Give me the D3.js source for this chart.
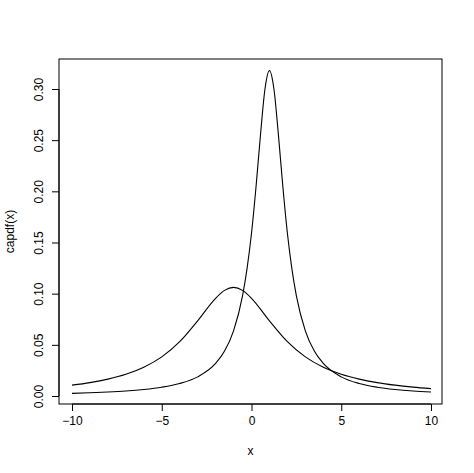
<!DOCTYPE html>
<html><head><meta charset="utf-8">
<script src="https://cdn.jsdelivr.net/npm/d3@7"></script>
<style>body{margin:0;background:#fff}text{font-family:"Liberation Sans",Arial,sans-serif;font-size:12px}</style>
</head><body><div id="chart"></div>
<script>
const xTicks = [-10, -5, 0, 5, 10];
const yTicks = [0, 0.05, 0.10, 0.15, 0.20, 0.25, 0.30];
// narrow, tall curve
const xsA = [-10,-9,-8,-7,-6,-5,-4,-3,-2,-1.5,-1,-0.5,-0.25,0,0.25,0.5,0.75,1,1.25,1.5,1.75,2,2.25,2.5,3,3.5,4,5,6,7,8,9,10];
const ysA = [0.0026,0.0032,0.0039,0.0049,0.0064,0.0086,0.0122,0.0187,0.0318,0.0439,0.0637,0.0979,0.1242,0.159,0.204,0.255,0.300,0.318,0.300,0.255,0.204,0.159,0.1242,0.0979,0.0637,0.0439,0.0318,0.0187,0.0122,0.0086,0.0064,0.0049,0.0039];
// wide, low curve
const xsB = [-10,-9,-8,-7,-6,-5,-4,-3,-2,-1.5,-1,-0.5,0,1,2,3,4,5,6,7,8,9,10];
const ysB = [0.0106,0.0131,0.0165,0.0212,0.0281,0.0382,0.0531,0.0735,0.0955,0.1032,0.1061,0.1032,0.0955,0.0735,0.0531,0.0382,0.0281,0.0212,0.0165,0.0131,0.0106,0.0087,0.0072];

const svg = d3.select("#chart").append("svg").attr("width", 474).attr("height", 473);
const box = { left: 59, right: 442, top: 59, bottom: 404 };

const x = d3.scaleLinear().domain([-10, 10]).range([72, 431]);
const y = d3.scaleLinear().domain([0, 0.30]).range([396, 89]);

svg.append("rect")
    .attr("x", box.left).attr("y", box.top)
    .attr("width", box.right - box.left).attr("height", box.bottom - box.top)
    .attr("fill", "none").attr("stroke", "#000");

const line = d3.line().x(d => x(d[0])).y(d => y(d[1])).curve(d3.curveMonotoneX);
[[xsA, ysA], [xsB, ysB]].forEach(([xs, ys]) => {
    svg.append("path")
        .attr("d", line(xs.map((v, i) => [v, ys[i]])))
        .attr("fill", "none").attr("stroke", "#000").attr("stroke-width", 1.1);
});

const xAxis = svg.append("g").attr("transform", `translate(0,${box.bottom})`)
    .call(d3.axisBottom(x).tickValues(xTicks).tickSize(7).tickPadding(5).tickFormat(d => d < 0 ? "\u2212" + Math.abs(d) : d));
xAxis.select(".domain").attr("d", `M${x(-10)},0H${x(10)}`);
xAxis.selectAll("text").style("font-size", "12px").style("font-family", "Liberation Sans, Arial, sans-serif");

const yAxis = svg.append("g").attr("transform", `translate(${box.left},0)`)
    .call(d3.axisLeft(y).tickValues(yTicks).tickSize(7).tickFormat(d3.format(".2f")));
yAxis.select(".domain").attr("d", `M0,${y(0)}V${y(0.30)}`);
yAxis.selectAll("text")
    .attr("transform", d => `rotate(-90,-16,${y(d)})`)
    .attr("x", -16).attr("y", y => 0).attr("dy", "0.32em")
    .style("text-anchor", "middle")
    .style("font-size", "12px").style("font-family", "Liberation Sans, Arial, sans-serif");
yAxis.selectAll(".tick text").each(function(d) {
    d3.select(this).attr("transform", `rotate(-90)`).attr("x", 0).attr("y", -16).attr("dy", "0");
});

svg.append("text").attr("x", (box.left + box.right) / 2).attr("y", 455)
    .attr("text-anchor", "middle").text("x");
svg.append("text").attr("transform", `translate(14,${(box.top + box.bottom) / 2}) rotate(-90)`)
    .attr("text-anchor", "middle").text("capdf(x)");
</script></body></html>
